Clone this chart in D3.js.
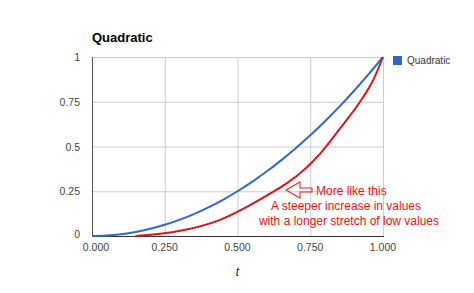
<!DOCTYPE html>
<html><head><meta charset="utf-8">
<script src="https://cdn.jsdelivr.net/npm/d3@7"></script>
<style>body{margin:0;background:#fff;}svg{display:block;font-family:Arial,"Liberation Sans",sans-serif;}</style>
</head><body><svg id="c" width="474" height="293"></svg>
<script>
const title = "Quadratic";
const seriesName = "Quadratic";
const xTicks = [0, 0.25, 0.5, 0.75, 1];
const xTickLabels = ["0.000", "0.250", "0.500", "0.750", "1.000"];
const yTicks = [0, 0.25, 0.5, 0.75, 1];
const yTickLabels = ["0", "0.25", "0.5", "0.75", "1"];
const blueT = [0, 0.05, 0.1, 0.15, 0.2, 0.25, 0.3, 0.35, 0.4, 0.45, 0.5, 0.55, 0.6, 0.65, 0.7, 0.75, 0.8, 0.85, 0.9, 0.95, 1];
const blueV = [0, 0.0025, 0.01, 0.0225, 0.04, 0.0625, 0.09, 0.1225, 0.16, 0.2025, 0.25, 0.3025, 0.36, 0.4225, 0.49, 0.5625, 0.64, 0.7225, 0.81, 0.9025, 1];
const redT = [0.15, 0.28, 0.44, 0.54, 0.61, 0.665, 0.715, 0.784, 0.852, 0.921, 0.966, 1];
const redV = [0, 0.022, 0.09, 0.17, 0.235, 0.29, 0.35, 0.46, 0.6, 0.75, 0.87, 1];
const noteLines = ["More like this", "A steeper increase in values", "with a longer stretch of low values"];
const xLabel = "t";

const svg = d3.select("#c");
const L = 92, R = 383, T = 57, B = 236;
const x = d3.scaleLinear().domain([0, 1]).range([L, R]);
const y = d3.scaleLinear().domain([0, 1]).range([B, T]);

// gridlines
svg.append("g").selectAll("line").data(yTicks.filter(d => d > 0)).join("line")
  .attr("x1", L).attr("x2", R).attr("y1", d => y(d) + 0.5).attr("y2", d => y(d) + 0.5)
  .attr("stroke", "#cccccc");
svg.append("g").selectAll("line").data(xTicks.filter(d => d > 0)).join("line")
  .attr("y1", T).attr("y2", B).attr("x1", d => x(d) + 0.5).attr("x2", d => x(d) + 0.5)
  .attr("stroke", "#cccccc");

// axes lines
svg.append("line").attr("x1", L + 0.5).attr("x2", L + 0.5).attr("y1", T).attr("y2", B).attr("stroke", "#555");
svg.append("line").attr("x1", L).attr("x2", R + 1).attr("y1", B + 0.5).attr("y2", B + 0.5).attr("stroke", "#333");

// tick labels
svg.append("g").selectAll("text").data(yTicks).join("text")
  .attr("x", L - 12).attr("y", d => y(d) + (d === 0 ? 2 : 4)).attr("text-anchor", "end")
  .attr("font-size", 10.5).attr("fill", "#444").text((d, i) => yTickLabels[i]);
svg.append("g").selectAll("text").data(xTicks).join("text")
  .attr("x", d => d === 0 ? x(d) + 4 : x(d)).attr("y", B + 15).attr("text-anchor", "middle")
  .attr("font-size", 10.5).attr("fill", "#444").text((d, i) => xTickLabels[i]);

// axis title
svg.append("text").attr("x", x(0.5)).attr("y", 276).attr("text-anchor", "middle")
  .attr("font-size", 12).attr("font-style", "italic").attr("fill", "#222").text(xLabel);

// chart title
svg.append("text").attr("x", L).attr("y", 42).attr("font-size", 13).attr("font-weight", "bold")
  .attr("fill", "#000").text(title);

// blue series
const line = d3.line().x(d => x(d[0])).y(d => y(d[1])).curve(d3.curveMonotoneX);
svg.append("path").datum(blueT.map((t, i) => [t, blueV[i]])).attr("d", line)
  .attr("fill", "none").attr("stroke", "#3366cc").attr("stroke-width", 2);

// red hand-drawn series
const redData = redT.map((t, i) => [t, redV[i]]);
svg.append("path").datum(redData).attr("d", line)
  .attr("fill", "none").attr("stroke", "#ee1c24").attr("stroke-width", 2);
svg.append("path").datum(redData).attr("d", line)
  .attr("fill", "none").attr("stroke", "#a8000c").attr("stroke-width", 1.4)
  .attr("stroke-dasharray", "1 2");

// arrow (hollow, pointing left)
const ax = 286, ay = 190;
svg.append("path")
  .attr("d", `M${ax},${ay} L${ax + 14},${ay - 8} L${ax + 14},${ay - 2} L${ax + 26},${ay - 2} L${ax + 26},${ay + 2} L${ax + 14},${ay + 2} L${ax + 14},${ay + 8} Z`)
  .attr("fill", "none").attr("stroke", "#ee2222").attr("stroke-width", 1.1);

// annotation text
svg.append("text").attr("x", 316).attr("y", 195).attr("font-size", 12).attr("fill", "#ee1111").text(noteLines[0]);
svg.append("text").attr("x", 346).attr("y", 210).attr("text-anchor", "middle").attr("font-size", 12).attr("fill", "#ee1111").text(noteLines[1]);
svg.append("text").attr("x", 349).attr("y", 225).attr("text-anchor", "middle").attr("font-size", 12).attr("fill", "#ee1111").text(noteLines[2]);

// legend
svg.append("rect").attr("x", 393).attr("y", 56).attr("width", 9).attr("height", 9).attr("fill", "#3366cc");
svg.append("text").attr("x", 407).attr("y", 64).attr("font-size", 10).attr("fill", "#333").text(seriesName);
</script></body></html>
